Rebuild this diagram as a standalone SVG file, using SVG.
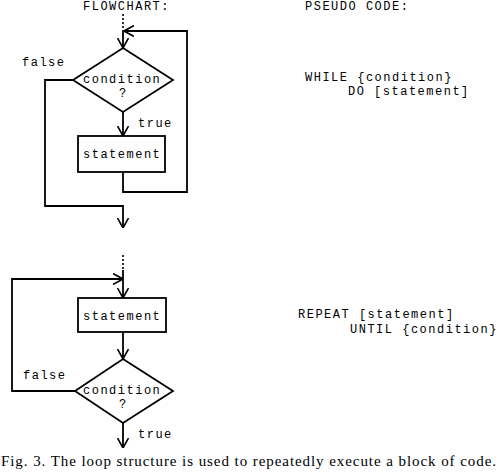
<svg xmlns="http://www.w3.org/2000/svg" width="500" height="472" viewBox="0 0 500 472">
<style>
.ln{fill:none;stroke:#000;stroke-width:1.8;stroke-linejoin:miter}
.dot{fill:none;stroke:#000;stroke-width:1.6;stroke-dasharray:2,2}
.shape{fill:#fff;stroke:#000;stroke-width:1.8}
.t{font-family:"Liberation Mono","DejaVu Sans Mono",monospace;font-size:12px;letter-spacing:1.5px;fill:#000}
.cap{font-family:"Liberation Serif","Times New Roman",serif;font-size:15px;fill:#000}
</style>
<defs>
<marker id="ar" viewBox="0 0 10 12" refX="10" refY="6" markerWidth="10" markerHeight="12" markerUnits="userSpaceOnUse" orient="auto">
<path d="M0,0.5 L10,6 L0,11.5" fill="none" stroke="#000" stroke-width="1.6"/>
</marker>
</defs>

<text class="t" x="83" y="10">FLOWCHART:</text>
<text class="t" x="305" y="10">PSEUDO CODE:</text>

<g id="connectors">
<line class="dot" x1="123" y1="14" x2="123" y2="30"/>
<line class="ln" x1="123" y1="30" x2="123" y2="48" marker-end="url(#ar)"/>
<line class="ln" x1="123" y1="112" x2="123" y2="136" marker-end="url(#ar)"/>
<polyline class="ln" points="123,172 123,192 187,192 187,31 124,31" marker-end="url(#ar)"/>
<polyline class="ln" points="73,80 45,80 45,206 123,206 123,228" marker-end="url(#ar)"/>

<line class="dot" x1="123" y1="255" x2="123" y2="270"/>
<line class="ln" x1="123" y1="270" x2="123" y2="298" marker-end="url(#ar)"/>
<line class="ln" x1="123" y1="332" x2="123" y2="359" marker-end="url(#ar)"/>
<polyline class="ln" points="75,391 12,391 12,279 123,279" marker-end="url(#ar)"/>
<line class="ln" x1="123" y1="423" x2="123" y2="448" marker-end="url(#ar)"/>
</g>

<g id="while-condition">
<polygon class="shape" points="123,48 173,80 123,112 73,80"/>
<text class="t" x="83" y="83">condition</text>
<text class="t" x="119" y="97">?</text>
</g>
<g id="while-statement">
<rect class="shape" x="78" y="136" width="87" height="36"/>
<text class="t" x="83" y="158">statement</text>
</g>
<text class="t" x="22" y="66">false</text>
<text class="t" x="138" y="127">true</text>

<g id="repeat-statement">
<rect class="shape" x="78" y="298" width="88" height="34"/>
<text class="t" x="83" y="320">statement</text>
</g>
<g id="repeat-condition">
<polygon class="shape" points="123,359 173,391 123,423 75,391"/>
<text class="t" x="83" y="394">condition</text>
<text class="t" x="119" y="408">?</text>
</g>
<text class="t" x="23" y="379">false</text>
<text class="t" x="138" y="438">true</text>

<text class="t" x="305" y="81">WHILE {condition}</text>
<text class="t" x="348" y="95">DO [statement]</text>
<text class="t" x="298" y="318">REPEAT [statement]</text>
<text class="t" x="350" y="333">UNTIL {condition}</text>

<text class="cap" x="1" y="466" textLength="495" lengthAdjust="spacing">Fig. 3. The loop structure is used to repeatedly execute a block of code.</text>
</svg>
